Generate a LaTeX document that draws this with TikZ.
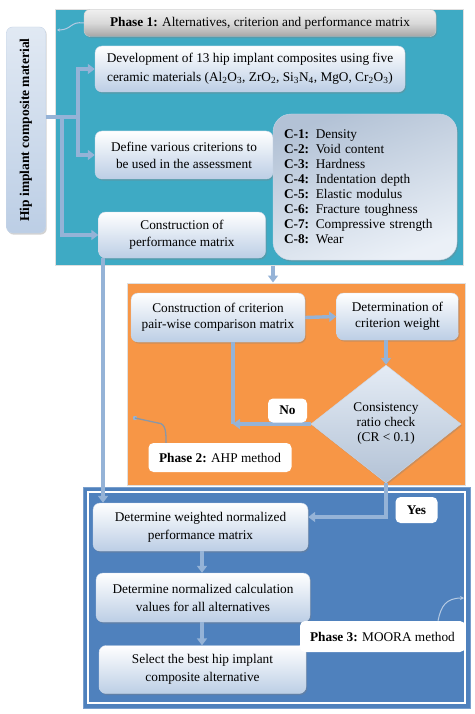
\documentclass[tikz,border=0pt]{standalone}
\usepackage{fontspec}
\setmainfont{Liberation Serif}
\usetikzlibrary{shapes.geometric,arrows.meta,shadows}
\definecolor{tealp}{RGB}{62,170,196}
\definecolor{orngp}{RGB}{247,150,70}
\definecolor{bluep}{RGB}{79,129,189}
\definecolor{arrc}{RGB}{149,179,215}
\definecolor{boxbot}{RGB}{188,206,229}
\definecolor{boxedge}{RGB}{200,214,232}
\begin{document}
\begin{tikzpicture}[x=1pt,y=-1pt,
  panel/.style={draw=gray!25, line width=1pt, inner sep=0pt},
  box/.style={rounded corners=7pt, top color=white, bottom color=boxbot, draw=boxedge, line width=0.4pt,
    drop shadow={shadow xshift=1.2pt,shadow yshift=-1.6pt,opacity=0.35},
    align=center, inner sep=2pt, font=\fontsize{13.3}{17}\selectfont},
  tag/.style={rounded corners=5pt, fill=white, inner sep=2pt, font=\fontsize{13.3}{15}\selectfont},
  arrow/.style={draw=arrc, line width=3.4pt, -{Triangle[length=7pt,width=10pt]}},
  plainline/.style={draw=arrc, line width=3.4pt},
  callout/.style={draw=arrc!70!white, line width=1pt}
]
\useasboundingbox (0,0) rectangle (474,714);
\fill[white] (0,0) rectangle (474,714);

% panels
\node[panel, fill=tealp, minimum width=408, minimum height=255] (p1) at (259,137.5) {};
\node[panel, fill=orngp, minimum width=338, minimum height=202] (p2) at (296,384) {};
\node[panel, fill=bluep, draw=arrc!60!bluep, minimum width=387, minimum height=221] (p3) at (276.5,597.5) {};
\node[draw=white, line width=1.4pt, minimum width=377, minimum height=211, inner sep=0pt] (p3in) at (276.5,597.5) {};

% Phase 1
\node[rounded corners=6pt, top color=gray!12, bottom color=gray!70, middle color=gray!30, draw=gray!40,
  drop shadow={shadow xshift=1.2pt,shadow yshift=-1.6pt,opacity=0.35},
  minimum width=352, minimum height=27, inner sep=0pt, font=\fontsize{13.3}{15}\selectfont] (hdr) at (260,23)
  {\textbf{Phase 1:} Alternatives, criterion and performance matrix};
\coordinate (c1) at (57,30);
\draw[callout, -{Stealth[length=3pt,width=3pt]}] (hdr.west) .. controls (70,21) and (72,30) .. (c1);

\node[rounded corners=6pt, top color=boxbot!45!white, bottom color=boxbot, draw=boxedge,
  drop shadow={shadow xshift=1.2pt,shadow yshift=-1.6pt,opacity=0.35},
  minimum width=39, minimum height=206, inner sep=0pt] (hip) at (26,130) {};
\node[rotate=90, font=\fontsize{13.5}{15}\selectfont\bfseries] (hiptext) at (hip.center) {Hip implant composite material};

\node[box, minimum width=310, minimum height=46, font=\fontsize{13.3}{19}\selectfont] (dev) at (250,69)
  {Development of 13 hip implant composites using five\\ceramic materials (Al\textsubscript{2}O\textsubscript{3}, ZrO\textsubscript{2}, Si\textsubscript{3}N\textsubscript{4}, MgO, Cr\textsubscript{2}O\textsubscript{3})};
\node[box, minimum width=178, minimum height=48] (def) at (184,155)
  {Define various criterions to\\be used in the assessment};
\node[box, rounded corners=18pt, top color=boxbot!85!gray, bottom color=boxbot!30!white, shading angle=20,
  minimum width=184, minimum height=146, text width=162, align=left, inner xsep=11pt,
  font=\fontsize{13.3}{15}\selectfont] (crit) at (365,187)
  {\textbf{C-1:} Density\\\textbf{C-2:} Void content\\\textbf{C-3:} Hardness\\\textbf{C-4:} Indentation depth\\\textbf{C-5:} Elastic modulus\\\textbf{C-6:} Fracture toughness\\\textbf{C-7:} Compressive strength\\\textbf{C-8:} Wear};
\node[box, minimum width=167, minimum height=46] (pm) at (182,235)
  {Construction of\\performance matrix};

\coordinate (j1) at (78,117);
\coordinate (j2) at (62,117);
\draw[plainline] (hip.east |- j1) -- (j1);
\draw[arrow] (j1) |- (dev.west);
\draw[arrow] (j1) |- (def.west);
\draw[arrow] (j2) |- (pm.west);

% Phase 1 -> Phase 2
\coordinate (a1) at (273,0);
\draw[arrow] (p1.south -| a1) -- (p2.north -| a1);

% Phase 2
\node[box, minimum width=174, minimum height=49, font=\fontsize{13.3}{16}\selectfont] (cc) at (218,317.5)
  {Construction of criterion\\pair-wise comparison matrix};
\node[box, minimum width=122, minimum height=47, font=\fontsize{13.3}{16}\selectfont] (dw) at (397.5,316.5)
  {Determination of\\criterion weight};
\node[diamond, top color=boxbot!40!white, bottom color=boxbot!85!gray, draw=boxedge,
  drop shadow={shadow xshift=1.2pt,shadow yshift=-1.6pt,opacity=0.35},
  minimum width=150, minimum height=118, inner sep=0pt, align=center,
  font=\fontsize{13.3}{15}\selectfont] (dia) at (386,424)
  {Consistency\\ratio check\\(CR < 0.1)};
\draw[arrow] (cc.east) -- (dw.west);
\draw[arrow] (dw.south -| dia.north) -- (dia.north);
\coordinate (nx) at (233,0);
\draw[arrow] (dia.west) -- (dia.west -| nx);
\draw[plainline] (dia.west -| nx) -- (cc.south -| nx);
\node[tag, minimum width=39, minimum height=24] (no) at (287.5,410.5) {\textbf{No}};
\node[tag, minimum width=143, minimum height=29] (lab2) at (220,457.5) {\textbf{Phase 2:} AHP method};
\coordinate (c2) at (135,418);
\fill[arrc] (c2) circle (2.2pt);
\draw[draw=gray!55!arrc, line width=1.3pt] (c2) -- (158,423) to[out=0,in=90] (lab2.north -| 166,0);

% Phase 3
\node[box, minimum width=215, minimum height=48, font=\fontsize{13.3}{18}\selectfont] (wn) at (200.5,527)
  {Determine weighted normalized\\performance matrix};
\node[box, minimum width=214, minimum height=49, font=\fontsize{13.3}{18}\selectfont] (ncv) at (203,597.5)
  {Determine normalized calculation\\values for all alternatives};
\node[box, minimum width=207, minimum height=48, font=\fontsize{13.3}{18}\selectfont] (sel) at (202.5,669.5)
  {Select the best hip implant\\composite alternative};
\node[tag, minimum width=42, minimum height=26] (yes) at (416.5,510) {\textbf{Yes}};
\node[tag, minimum width=165, minimum height=31] (lab3) at (382.5,636.5) {\textbf{Phase 3:} MOORA method};

\coordinate (lx) at (103,0);
\draw[arrow] (pm.south -| lx) -- (wn.north -| lx);
\coordinate (yl) at (0,517);
\draw[arrow] (dia.south) |- (wn.east |- yl);
\coordinate (cx) at (202,0);
\draw[arrow] (wn.south -| cx) -- (ncv.north -| cx);
\draw[arrow] (ncv.south -| cx) -- (sel.north -| cx);
\coordinate (c3) at (464,598);
\draw[callout, -{Stealth[length=4pt,width=4pt]}] (lab3.north -| 438,0) .. controls (441,606) and (446,598) .. (c3);
\end{tikzpicture}
\end{document}
